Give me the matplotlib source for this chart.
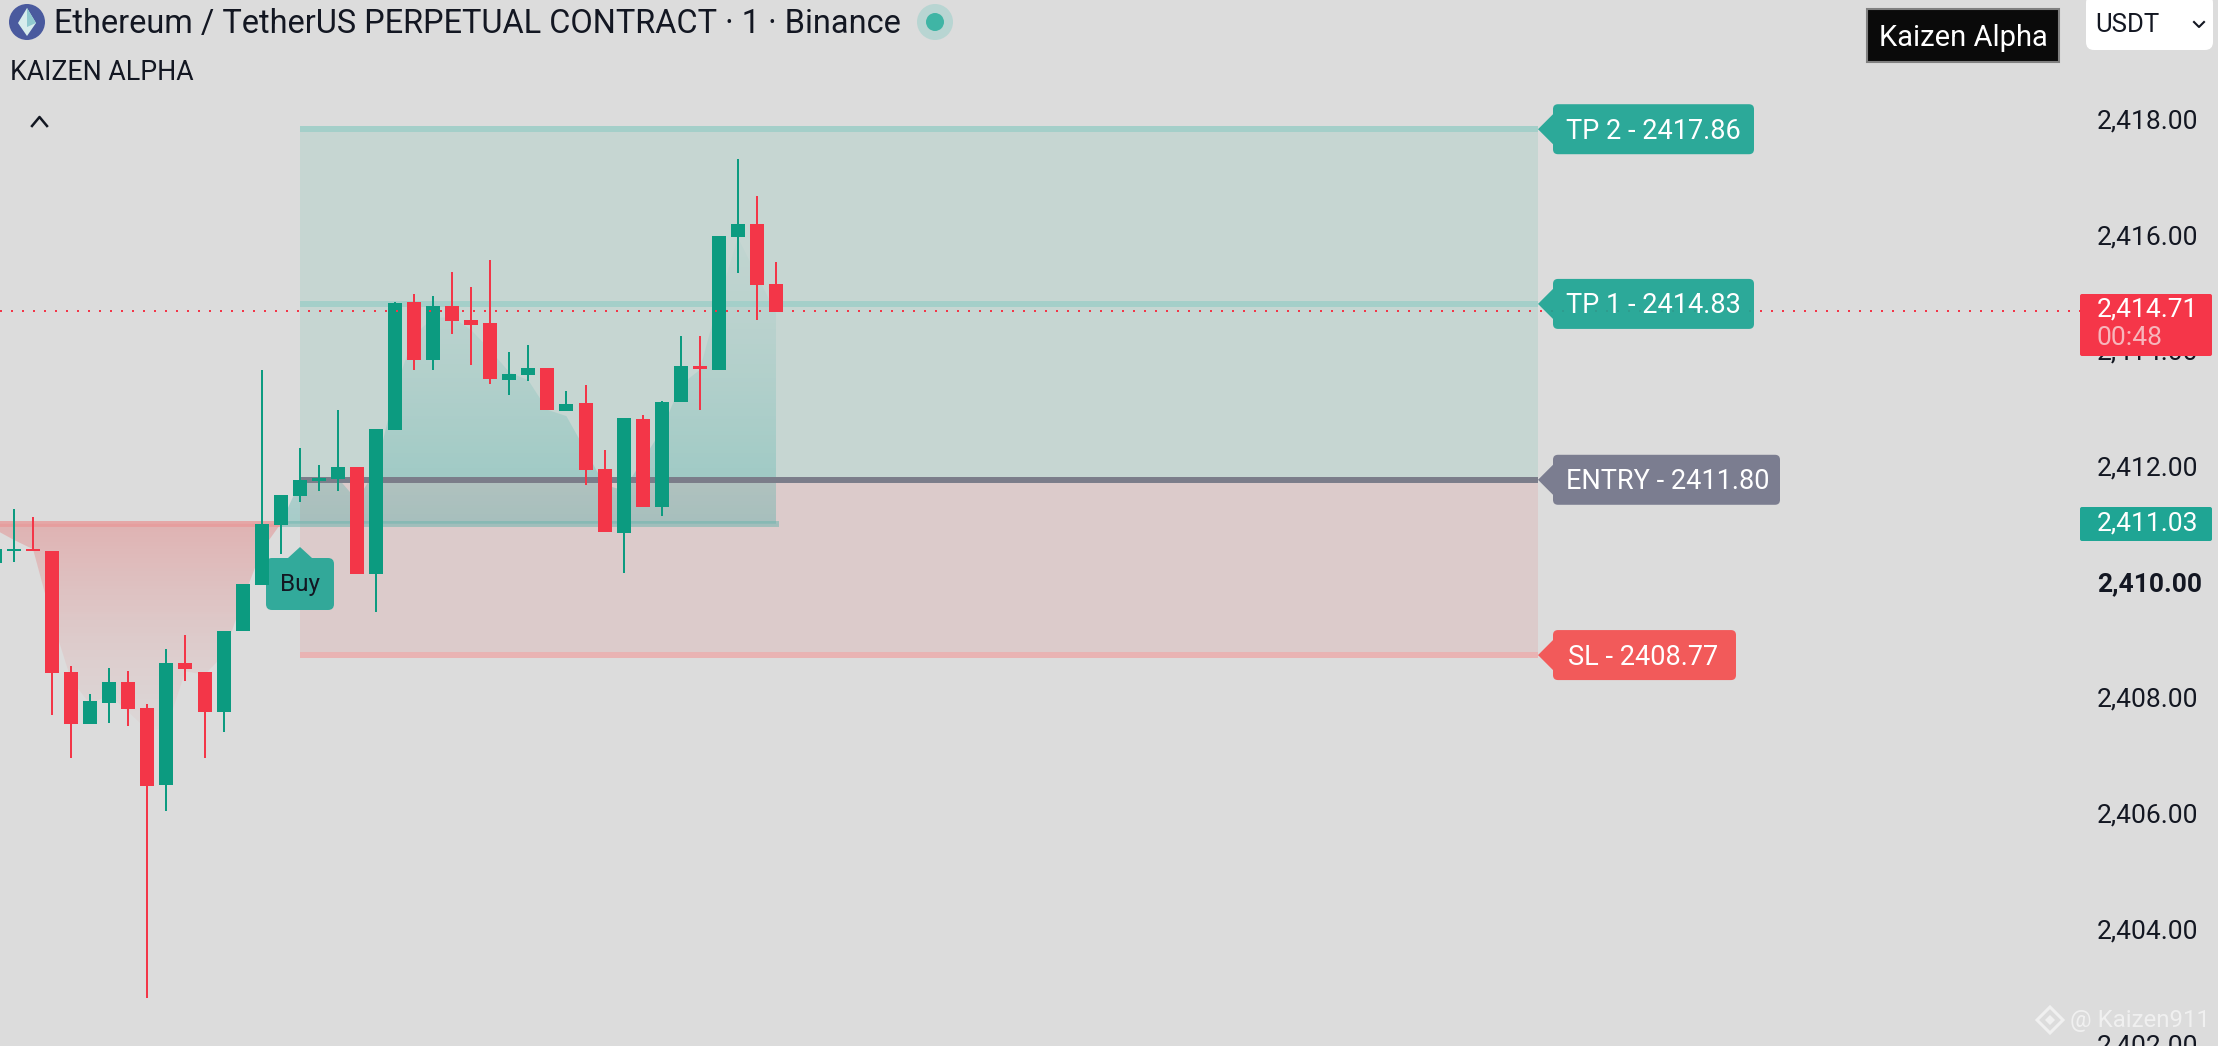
import matplotlib
matplotlib.use('Agg')
import matplotlib.pyplot as plt
import numpy as np
from matplotlib.patches import Circle, FancyBboxPatch, Polygon, Rectangle

plt.rcParams['font.family'] = ['Roboto', 'DejaVu Sans']

W, H = 2218, 1046
PLOT_W = 2080
BG = '#dcdcdc'
GREEN = '#0c9b80'
RED = '#f33648'
TEAL = '#1fa594'
INK = '#131722'

# candles
idx = list(range(-1, 41))
opens = [2410.32, 2410.53, 2410.56, 2410.53, 2408.44, 2407.54, 2407.90, 2408.26, 2407.82, 2406.48,
         2408.59, 2408.44, 2407.75, 2409.15, 2409.94, 2410.98, 2411.48, 2411.74, 2411.77, 2411.98,
         2410.13, 2412.62, 2414.83, 2413.83, 2414.76, 2414.52, 2414.47, 2413.48, 2413.57, 2413.69,
         2412.95, 2413.09, 2411.95, 2410.84, 2412.81, 2411.29, 2413.10, 2413.73, 2413.66, 2415.96,
         2416.18, 2415.14]
closes = [2410.56, 2410.56, 2410.53, 2408.42, 2407.54, 2407.94, 2408.26, 2407.80, 2406.47, 2408.59,
          2408.49, 2407.75, 2409.15, 2409.96, 2411.00, 2411.50, 2411.76, 2411.79, 2411.98, 2410.13,
          2412.64, 2414.82, 2413.83, 2414.76, 2414.50, 2414.44, 2413.50, 2413.59, 2413.69, 2412.97,
          2413.07, 2411.93, 2410.86, 2412.83, 2411.29, 2413.10, 2413.73, 2413.68, 2415.97, 2416.18,
          2415.13, 2414.66]
highs = [2410.56, 2411.26, 2411.12, 2410.53, 2408.54, 2408.06, 2408.51, 2408.45, 2407.88, 2408.84,
         2409.08, 2408.44, 2409.15, 2409.96, 2413.66, 2411.50, 2412.31, 2412.02, 2412.97, 2411.98,
         2412.64, 2414.83, 2414.97, 2414.94, 2415.35, 2415.09, 2415.56, 2413.97, 2414.09, 2413.69,
         2413.29, 2413.40, 2412.27, 2412.83, 2412.88, 2413.12, 2414.25, 2414.25, 2415.97, 2417.31,
         2416.67, 2415.53]
lows = [2410.32, 2410.34, 2410.53, 2407.70, 2406.95, 2407.94, 2407.56, 2407.50, 2402.80, 2406.03,
        2408.28, 2406.95, 2407.40, 2409.94, 2410.00, 2410.48, 2411.38, 2411.57, 2411.57, 2410.13,
        2409.47, 2412.62, 2413.66, 2413.66, 2414.28, 2413.74, 2413.42, 2413.23, 2413.47, 2412.97,
        2412.95, 2411.67, 2410.86, 2410.15, 2411.29, 2411.13, 2413.10, 2412.97, 2413.66, 2415.34,
        2414.52, 2414.66]

# shaded clouds under/over the candles
base_price = 2411.00
red_idx = list(range(-1, 15))
red_cloud = [2410.90, 2410.72, 2410.56, 2409.34, 2408.30, 2407.88, 2408.04, 2407.75, 2407.43, 2407.45,
             2408.45, 2408.39, 2408.73, 2409.68, 2410.54, 2411.00]
teal_idx = list(range(14, 41))
teal_cloud = [2411.00, 2411.72, 2411.79, 2411.79, 2411.41, 2411.93, 2413.31, 2414.26, 2414.56, 2414.57,
              2414.35, 2414.00, 2413.62, 2413.48, 2412.97, 2412.86, 2412.27, 2411.67, 2411.58, 2412.10,
              2412.62, 2413.40, 2413.66, 2414.87, 2415.94, 2415.30, 2414.64]

# trade levels
tp2_line, tp1_line, entry_line, sl_line = 2417.82, 2414.80, 2411.76, 2408.73
level_lines = [tp2_line, tp1_line, entry_line, sl_line]
level_text = ['TP 2 - 2417.86', 'TP 1 - 2414.83', 'ENTRY - 2411.80', 'SL - 2408.77']
level_band = ['#a4cfc9', '#a4cfc9', '#7b7d8a', '#e9b3b3']
level_tag = [TEAL, TEAL, '#74768a', '#f45050']
level_right = [1754, 1754, 1780, 1736]
box_start, box_end = 15, 80
last_price_line = 2414.68

yticks = [2402, 2404, 2406, 2408, 2410, 2412, 2414, 2416, 2418]

fig = plt.figure(figsize=(W / 100, H / 100), dpi=100, facecolor=BG)
ax = fig.add_axes([0, 0, PLOT_W / W, 1], facecolor=BG)
ov = fig.add_axes([0, 0, 1, 1], facecolor='none', zorder=5)
ov.set_xlim(0, W)
ov.set_ylim(H, 0)
ov.axis('off')

xlim = (-14 / 19.05, (PLOT_W - 14) / 19.05)
ylim = (2418 - (H - 118.8) / 57.85, 2418 + 118.8 / 57.85)

# zones
ax.fill_between([box_start, box_end], entry_line, tp2_line, color='#c6d6d2', lw=0, zorder=1)
ax.fill_between([box_start, box_end], sl_line, entry_line, color='#dccbcb', lw=0, zorder=1)


def cloud(xs, ys, rgb, a_base, a_far, y_far, z):
    grad = np.zeros((256, 2, 4))
    grad[..., 0], grad[..., 1], grad[..., 2] = rgb
    grad[..., 3] = (a_far + (a_base - a_far) * np.linspace(0, 1, 256) ** 1.5)[:, None]
    if y_far > base_price:
        extent = (min(xs), max(xs), base_price, y_far)
    else:
        extent = (min(xs), max(xs), y_far, base_price)
        grad = grad[::-1]
    im = ax.imshow(grad, extent=extent, aspect='auto', origin='upper', zorder=z, interpolation='bilinear')
    poly = ax.fill_between(xs, base_price, ys, facecolor='none', lw=0, zorder=z)
    im.set_clip_path(poly.get_paths()[0], transform=ax.transData)


cloud(red_idx, red_cloud, (0.92, 0.30, 0.30), 0.29, 0.04, 2407.3, 2)
cloud(teal_idx, teal_cloud, (0.08, 0.63, 0.59), 0.27, 0.03, 2416.0, 2)

# level bands
ax.hlines(base_price, -1, 14, color='#e89a9a', lw=4.3, alpha=0.8, zorder=3, capstyle='butt')
ax.hlines(base_price, 14, 40.15, color='#6fb5ae', lw=4.3, alpha=0.55, zorder=3, capstyle='butt')
for lv, c in zip(level_lines, level_band):
    ax.hlines(lv, box_start, box_end, color=c, lw=4.3, zorder=3, capstyle='butt')

# Buy tag sits under the candles
ax.add_patch(FancyBboxPatch((269, 561), 62, 46, boxstyle='round,pad=3,rounding_size=6', fc=TEAL, ec='none',
                            alpha=0.9, transform=ov.transData, zorder=4))
ax.add_patch(Polygon([[288, 558], [300, 547], [312, 558]], closed=True, fc=TEAL, ec='none', alpha=0.9,
                     transform=ov.transData, zorder=4))
ax.text(300, 585, 'Buy', transform=ov.transData, fontsize=17.5, color=INK, ha='center', va='center', zorder=4.5)

# candles
for i, o, c, h, l in zip(idx, opens, closes, highs, lows):
    col = GREEN if c >= o else RED
    ax.vlines(i, l, h, color=col, lw=1.44, zorder=6, capstyle='butt')
    ax.bar(i, abs(c - o), bottom=min(o, c), width=14 / 19.05, color=col, lw=0, zorder=6)

ax.hlines(last_price_line, xlim[0], xlim[1], color=RED, lw=1.44, linestyles=(0, (1.0, 4.5)), zorder=7)

ax.set_xlim(*xlim)
ax.set_ylim(*ylim)
ax.set_xticks([])
ax.yaxis.tick_right()
ax.set_yticks(yticks)
ax.set_yticklabels([f'{v:,.2f}' for v in yticks])
ax.tick_params(axis='y', length=0, pad=12, labelsize=19, labelcolor=INK)
for t, v in zip(ax.get_yticklabels(), yticks):
    t.set_verticalalignment('center_baseline')
    if v == 2410:
        t.set_fontweight('bold')
for s in ax.spines.values():
    s.set_visible(False)


def price_px(p):
    return (ylim[1] - p) / (ylim[1] - ylim[0]) * H


# level tags
for lv, txt, c, right in zip(level_lines, level_text, level_tag, level_right):
    yc = price_px(lv)
    ov.add_patch(FancyBboxPatch((1556, yc - 22), right - 1559, 44, boxstyle='round,pad=3,rounding_size=5', fc=c,
                                ec='none', alpha=0.93))
    ov.add_patch(Polygon([[1553, yc - 15], [1538, yc], [1553, yc + 15]], closed=True, fc=c, ec='none', alpha=0.93))
    ov.text(1566 if not txt.startswith('SL') else 1568, yc + 2, txt, color='white', fontsize=19.5, va='center', ha='left')

# axis price boxes
ov.add_patch(FancyBboxPatch((2082, 296), 128, 58, boxstyle='round,pad=2,rounding_size=2', fc='#f53649', ec='none'))
ov.text(2097, 310, '2,414.71', color='white', fontsize=19, va='center', ha='left')
ov.text(2097, 338, '00:48', color='#f7b6bc', fontsize=19, va='center', ha='left')
ov.add_patch(FancyBboxPatch((2082, 509), 128, 30, boxstyle='round,pad=2,rounding_size=2', fc=TEAL, ec='none'))
ov.text(2097, 524, '2,411.03', color='white', fontsize=19, va='center', ha='left')

# header
ov.add_patch(Circle((27, 22), 18, fc='#4a5a9e', ec='none'))
ov.add_patch(Polygon([[27, 8], [36, 23], [27, 36], [18, 23]], closed=True, fc='#d6ecec', ec='none'))
ov.add_patch(Polygon([[27, 8], [36, 23], [27, 27]], closed=True, fc='#8fc9cf', ec='none'))
ov.text(54, 24, 'Ethereum / TetherUS PERPETUAL CONTRACT · 1 · Binance', color=INK, fontsize=23.45, va='center', ha='left')
ov.add_patch(Circle((935, 22), 18, fc='#b8d5d2', ec='none'))
ov.add_patch(Circle((935, 22), 9, fc='#3fb5a5', ec='none'))
ov.text(10, 72, 'KAIZEN ALPHA', color=INK, fontsize=19.3, va='center', ha='left')
ov.plot([32, 39.5, 47], [126, 117, 126], color=INK, lw=1.8)

# top right buttons
ov.add_patch(Rectangle((1867, 9), 192, 53, fc='#0a0a0a', ec='#808080', lw=1.5))
ov.text(1963, 38, 'Kaizen Alpha', color='white', fontsize=21, va='center', ha='center')
ov.add_patch(FancyBboxPatch((2094, 3), 111, 39, boxstyle='round,pad=8,rounding_size=8', fc='white', ec='none'))
ov.text(2095, 25, 'USDT', color=INK, fontsize=18.5, va='center', ha='left')
ov.plot([2194, 2199, 2204], [22, 27, 22], color=INK, lw=1.5)

# watermark
ov.add_patch(Polygon([[2050, 1007], [2063, 1020], [2050, 1033], [2037, 1020]], closed=True, fc='none', ec='#f0f0f0', lw=2.2))
ov.add_patch(Polygon([[2050, 1015], [2055, 1020], [2050, 1025], [2045, 1020]], closed=True, fc='#f0f0f0', ec='none'))
ov.text(2070, 1020, '@ Kaizen911', color='#f0f0f0', fontsize=17.3, va='center', ha='left')

fig.savefig('out.png', dpi=100, facecolor=BG)
